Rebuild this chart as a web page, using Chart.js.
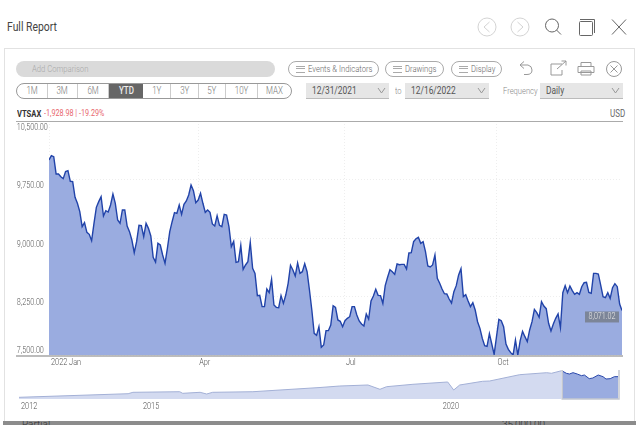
<!DOCTYPE html>
<html>
<head>
<meta charset="utf-8">
<title>Full Report</title>
<script src="https://cdn.jsdelivr.net/npm/chart.js@4"></script>
<style>
  html, body { margin: 0; padding: 0; background: #fff; }
  body { width: 640px; height: 425px; position: relative; overflow: hidden;
         font-family: Roboto, sans-serif; font-weight: 300; color: #666; }
  .abs { position: absolute; }
  /* the original face is condensed, so squeeze Roboto */
  .t { display: inline-block; white-space: nowrap; transform: scaleX(0.8); transform-origin: left center; }
  canvas { position: absolute; display: block; }
  #title { left: 7px; top: 18px; font-size: 13px; font-weight: 400; color: #444; line-height: 18px; }
  #backdrop { left: 0; top: 421px; width: 640px; height: 4px; overflow: hidden; }
  #backdrop div { position: absolute; left: 3px; right: 4px; top: 0; height: 4px; background: #8c8c8c; }
  #backdrop span { position: absolute; top: -2px; font-size: 10px; color: #333; }
  #card { left: 4px; top: 48px; width: 631px; height: 373px; box-sizing: border-box; background: #fff;
          border: 1px solid #e2e2e2; border-bottom: 0; }
  #search { left: 16px; top: 61px; width: 259px; height: 16px; border-radius: 8px; background: #dadada;
            font-size: 9.6px; line-height: 16px; color: #a8a8a8; padding-left: 16px; box-sizing: border-box; }
  .pill { top: 61px; height: 16px; box-sizing: border-box; border: 1px solid #aaa; border-radius: 8px;
          font-size: 9.6px; line-height: 14px; color: #666; padding-left: 19px; white-space: nowrap; }
  .pill::before { content: ""; position: absolute; left: 7px; top: 4px; width: 9px; height: 5px;
                  border-top: 1px solid #aaa; border-bottom: 1px solid #aaa; }
  .pill::after { content: ""; position: absolute; left: 7px; top: 6px; width: 9px; border-top: 1px solid #aaa; }
  #ranges { left: 16px; top: 83px; width: 276px; height: 16px; box-sizing: border-box; border: 1px solid #999;
            border-radius: 8px; overflow: hidden; display: flex; background: #fff; }
  #ranges div { box-sizing: border-box; font-size: 10px; line-height: 14px; text-align: center; color: #777;
                border-right: 1px solid #ccc; }
  #ranges div .t { transform-origin: center center; }
  #ranges div.on { background: #666; color: #eee; font-weight: 500; border-right: 0; }
  #ranges div:last-child { border-right: 0; }
  .sel { top: 83px; height: 16px; box-sizing: border-box; background: #e6e6e6; border-bottom: 1px solid #bbb;
         font-size: 10.5px; font-weight: 400; line-height: 15px; color: #555; padding-left: 6px; }
  .sel svg { position: absolute; right: 3px; top: 4px; }
  .lbl { font-size: 9.5px; color: #888; line-height: 16px; top: 83px; }
  #ticker { left: 16.5px; top: 108px; font-size: 9.5px; line-height: 11px; font-weight: 700; color: #333; }
  #change { left: 44px; top: 108px; font-size: 9px; line-height: 11px; font-weight: 400; color: #e8686e; }
  #ccy { left: 610px; top: 108px; font-size: 10px; line-height: 11px; font-weight: 400; color: #666; }
  .rule { left: 16px; width: 607px; background: #ababab; }
</style>
</head>
<body>
<div id="backdrop" class="abs"><div></div><span style="left:22px">Partial</span><span style="left:502px">35,000.00</span></div>
<div id="title" class="abs"><span class="t">Full Report</span></div>

<svg class="abs" style="left:470px;top:10px" width="165" height="34" fill="none">
  <g stroke="#d4d4d4" stroke-width="1">
    <circle cx="17" cy="17" r="9"/><path d="M19.5 12 L14 17 L19.5 22"/>
    <circle cx="50" cy="17" r="9"/><path d="M47.5 12 L53 17 L47.5 22"/>
  </g>
  <g stroke="#666" stroke-width="1">
    <circle cx="82" cy="15.5" r="6.5"/><path d="M86.5 20 L91 24.5"/>
    <rect x="109.5" y="11.5" width="13" height="14" rx="1"/><path d="M110 9.5 H124.5 V23"/>
    <path d="M142 9.5 L156 24.5 M156 9.5 L142 24.5"/>
  </g>
</svg>

<div id="card" class="abs"></div>
<div id="search" class="abs"><span class="t">Add Comparison</span></div>
<div class="pill abs" style="left:288px;width:91px"><span class="t">Events &amp; Indicators</span></div>
<div class="pill abs" style="left:385px;width:59px"><span class="t">Drawings</span></div>
<div class="pill abs" style="left:451px;width:51px"><span class="t">Display</span></div>
<svg class="abs" style="left:515px;top:59px" width="112" height="20" fill="none" stroke="#999" stroke-width="1">
  <path d="M5 6 L9 2.5 M5 6 L9 9.5 M5 6 H13 Q17 7 17 11 Q17 15.5 12 15.5 H9"/>
  <path d="M47 5 H36 V16 H47 V11 M42 10 L51 2 M46.5 2 H51 V6.5"/>
  <path d="M66 7 V3.5 H76 V7 M63 7.5 H79 V13.5 H63 Z M66 12 H76 V16 H66 Z"/>
  <circle cx="99" cy="10" r="7.5"/><path d="M95.5 6.5 L102.5 13.5 M102.5 6.5 L95.5 13.5"/>
</svg>

<div id="ranges" class="abs"></div>
<div class="sel abs" style="left:306px;width:83px"><span class="t">12/31/2021</span><svg width="9" height="7" fill="none" stroke="#999"><path d="M1 1 L4.5 6 L8 1"/></svg></div>
<div class="lbl abs" style="left:395px"><span class="t">to</span></div>
<div class="sel abs" style="left:405px;width:84px"><span class="t">12/16/2022</span><svg width="9" height="7" fill="none" stroke="#999"><path d="M1 1 L4.5 6 L8 1"/></svg></div>
<div class="lbl abs" style="left:503px"><span class="t">Frequency</span></div>
<div class="sel abs" style="left:540px;width:83px"><span class="t">Daily</span><svg width="9" height="7" fill="none" stroke="#999"><path d="M1 1 L4.5 6 L8 1"/></svg></div>

<div id="ticker" class="abs"><span class="t">VTSAX</span></div>
<div id="change" class="abs"><span class="t">-1,928.98 | -19.29%</span></div>
<div id="ccy" class="abs"><span class="t">USD</span></div>

<canvas id="mainChart" width="607" height="250" style="left:16px;top:121px;width:607px;height:250px"></canvas>
<canvas id="navChart" width="607" height="50" style="left:16px;top:365px;width:607px;height:50px"></canvas>
<div class="rule abs" style="top:121px;height:1px"></div>
<div class="rule abs" style="top:355px;height:1.5px;opacity:.8"></div>

<script>
// chart data
const rangeLabels = ['1M', '3M', '6M', 'YTD', '1Y', '3Y', '5Y', '10Y', 'MAX'];
const rangeWidths = [31, 30, 31, 34, 28, 28, 27, 32, 33];

const yTicks = [7500, 8250, 9000, 9750, 10500];
const yTickLabels = ['7,500.00', '8,250.00', '9,000.00', '9,750.00', '10,500.00'];

// trading day number of each quarter start, first session = 0
const xTickDays = [0, 63, 125, 189];
const xTickLabels = ['2022 Jan', 'Apr', 'Jul', 'Oct'];

const closes = [
  10000, 10056, 10043, 9821, 9821, 9786, 9761, 9851, 9863, 9727, 9722, 9521, 9445, 9338, 9145, 9197,
  9073, 9047, 8966, 9188, 9393, 9466, 9530, 9282, 9350, 9333, 9423, 9564, 9445, 9231, 9188, 9359,
  9359, 9154, 9081, 8974, 8812, 8953, 9162, 9158, 9017, 9188, 9124, 9026, 8752, 8692, 8932, 8910,
  8782, 8675, 8868, 9081, 9209, 9325, 9316, 9423, 9303, 9432, 9474, 9551, 9679, 9607, 9453, 9487,
  9573, 9445, 9329, 9359, 9329, 9180, 9154, 9286, 9162, 9145, 9303, 9295, 9145, 8889, 8957, 8688,
  8697, 8906, 8598, 8654, 8697, 8944, 8611, 8547, 8261, 8265, 8120, 8120, 8346, 8299, 8470, 8141,
  8111, 8107, 8261, 8162, 8269, 8419, 8650, 8590, 8513, 8680, 8547, 8568, 8671, 8568, 8333, 8077,
  7778, 7752, 7863, 7598, 7628, 7812, 7812, 7885, 8132, 8111, 7949, 7932, 7863, 7940, 7970, 7991,
  8120, 8120, 8013, 7936, 7897, 7872, 8026, 7961, 8192, 8256, 8342, 8265, 8261, 8162, 8389, 8496,
  8594, 8568, 8534, 8667, 8658, 8662, 8662, 8603, 8808, 8812, 8953, 8991, 9009, 8932, 8953, 8825,
  8641, 8628, 8654, 8782, 8483, 8419, 8346, 8286, 8282, 8218, 8167, 8312, 8389, 8526, 8607, 8248,
  8273, 8192, 8120, 8171, 8077, 7927, 7842, 7713, 7620, 7611, 7773, 7641, 7508, 7735, 7957, 7940,
  7863, 7641, 7572, 7530, 7500, 7692, 7500, 7684, 7803, 7735, 7671, 7821, 7927, 8085, 8043, 7983,
  8184, 8128, 8094, 7906, 7808, 7897, 7970, 8026, 7850, 8299, 8389, 8299, 8385, 8325, 8278, 8299,
  8278, 8376, 8427, 8432, 8303, 8291, 8547, 8547, 8539, 8397, 8248, 8235, 8299, 8226, 8363, 8415,
  8376, 8154, 8071.02
];

// navigator: long history, x in decimal years
const navYears = [2012.95, 2014.77, 2014.85, 2015.63, 2015.68, 2015.97, 2016.08, 2016.18, 2016.85,
  2017.97, 2018.3, 2018.77, 2018.97, 2019.08, 2019.52, 2020.1, 2020.2, 2020.3, 2020.68, 2020.8,
  2021.3, 2021.75, 2021.83, 2022.0];
const navValues = [600, 1890, 2390, 2600, 2030, 2390, 1785, 2390, 2600,
  4100, 4640, 5000, 3460, 4390, 5250, 6070, 3210, 5000, 6320, 6430,
  8680, 9390, 9180, 10100];
const selYears = [2022.01, 2022.08, 2022.13, 2022.19, 2022.26, 2022.33, 2022.38, 2022.46,
  2022.52, 2022.61, 2022.69, 2022.74, 2022.81, 2022.88, 2022.94];
const selValues = [9996, 9163, 8925, 9401, 8925, 8330, 8568, 7259,
  7497, 8568, 7973, 7140, 7259, 7973, 7973];
const navTickYears = [2012.95, 2015, 2020];
const navTickLabels = ['2012', '2015', '2020'];

// range buttons
const rangesEl = document.getElementById('ranges');
rangeLabels.forEach((label, i) => {
  const d = document.createElement('div');
  const s = document.createElement('span');
  s.className = 't';
  s.textContent = label;
  d.appendChild(s);
  d.style.width = rangeWidths[i] + 'px';
  if (label === 'YTD') d.className = 'on';
  rangesEl.appendChild(d);
});

function fixedTicks(values) {
  return function (scale) {
    scale.ticks = values.map(v => ({ value: v }));
  };
}

// same squeeze as the html text, canvas has no condensed face either
function squeezedText(ctx, text, x, y) {
  ctx.save();
  ctx.translate(x, y);
  ctx.scale(0.8, 1);
  ctx.textAlign = 'left';
  ctx.textBaseline = 'middle';
  ctx.fillText(text, 0, 0);
  ctx.restore();
}

function xLabels(chart, values, labels) {
  const { ctx, scales, chartArea } = chart;
  ctx.save();
  ctx.font = '300 9.2px Roboto, sans-serif';
  ctx.fillStyle = '#555';
  values.forEach((v, i) => {
    squeezedText(ctx, labels[i], scales.x.getPixelForValue(v) + (i === 0 ? 2 : 1), chartArea.bottom + 8);
  });
  ctx.restore();
}

// y labels hang under their grid line (the lowest sits above it), last price tag on the plot
const axisLabels = {
  id: 'axisLabels',
  afterDraw(chart) {
    const { ctx, scales } = chart;
    ctx.save();
    ctx.font = '300 9px Roboto, sans-serif';
    ctx.fillStyle = '#555';
    yTicks.forEach((v, i) => {
      const y = scales.y.getPixelForValue(v);
      squeezedText(ctx, yTickLabels[i], 0.8, i === 0 ? y - 4.5 : y + 6.5);
    });
    xLabels(chart, xTickDays, xTickLabels);
    const last = closes[closes.length - 1];
    const tagY = scales.y.getPixelForValue(last) + 1;
    ctx.fillStyle = '#7c8598';
    ctx.fillRect(569, tagY, 34, 11);
    ctx.fillStyle = '#e8e8e8';
    squeezedText(ctx, last.toLocaleString('en-US', { minimumFractionDigits: 2 }), 572.5, tagY + 5.7);
    ctx.restore();
  }
};

new Chart(document.getElementById('mainChart'), {
  type: 'line',
  data: {
    datasets: [{
      data: closes.map((v, i) => ({ x: i, y: v })),
      borderColor: '#2143a9',
      backgroundColor: '#9aace0',
      borderWidth: 1.4,
      pointRadius: 0,
      tension: 0,
      fill: 'origin'
    }]
  },
  options: {
    responsive: false,
    animation: false,
    devicePixelRatio: 1,
    layout: { padding: { left: 0, right: 1, top: 0, bottom: 0 } },
    plugins: { legend: { display: false }, tooltip: { enabled: false } },
    scales: {
      x: {
        type: 'linear',
        min: 0,
        max: closes.length - 1,
        afterBuildTicks: fixedTicks(xTickDays),
        afterFit(scale) { scale.height = 16; },
        border: { display: false, dash: [1, 2] },
        grid: { color: 'rgba(200,200,200,0.3)', drawTicks: false },
        ticks: { display: false }
      },
      y: {
        min: 7500,
        max: 10500,
        afterBuildTicks: fixedTicks(yTicks),
        afterFit(scale) { scale.width = 33; },
        border: { display: false, dash: [1, 2] },
        grid: { color: 'rgba(200,200,200,0.3)', drawTicks: false },
        ticks: { display: false }
      }
    }
  },
  plugins: [axisLabels]
});

// grey handles round the selected window, plus the year labels
const navHandles = {
  id: 'navHandles',
  afterDraw(chart) {
    const { ctx, scales, chartArea } = chart;
    const x0 = scales.x.getPixelForValue(selYears[0]);
    const x1 = scales.x.getPixelForValue(selYears[selYears.length - 1]);
    ctx.save();
    ctx.strokeStyle = '#c4c7d0';
    ctx.lineWidth = 1.5;
    ctx.beginPath();
    ctx.moveTo(x0, chartArea.top + 4);
    ctx.lineTo(x0, chartArea.bottom);
    ctx.lineTo(x1 + 1, chartArea.bottom);
    ctx.lineTo(x1 + 1, chartArea.top + 4);
    ctx.stroke();
    ctx.restore();
    xLabels(chart, navTickYears, navTickLabels);
  }
};

new Chart(document.getElementById('navChart'), {
  type: 'line',
  data: {
    datasets: [
      {
        data: navYears.map((y, i) => ({ x: y, y: navValues[i] })),
        borderColor: '#a3b0d6',
        backgroundColor: '#d3daf0',
        borderWidth: 1,
        pointRadius: 0,
        fill: 'origin'
      },
      {
        data: selYears.map((y, i) => ({ x: y, y: selValues[i] })),
        borderColor: '#2a48ab',
        backgroundColor: '#9aace0',
        borderWidth: 1,
        pointRadius: 0,
        fill: 'origin'
      }
    ]
  },
  options: {
    responsive: false,
    animation: false,
    devicePixelRatio: 1,
    layout: { padding: { left: 3, right: 5, top: 1, bottom: 0 } },
    plugins: { legend: { display: false }, tooltip: { enabled: false } },
    scales: {
      x: {
        type: 'linear',
        min: navYears[0],
        max: selYears[selYears.length - 1],
        afterBuildTicks: fixedTicks(navTickYears),
        afterFit(scale) { scale.height = 16; },
        border: { display: false },
        grid: { display: false, drawTicks: false },
        ticks: { display: false }
      },
      y: { display: false, min: 0, max: 11781 }
    }
  },
  plugins: [navHandles]
});
</script>
</body>
</html>
